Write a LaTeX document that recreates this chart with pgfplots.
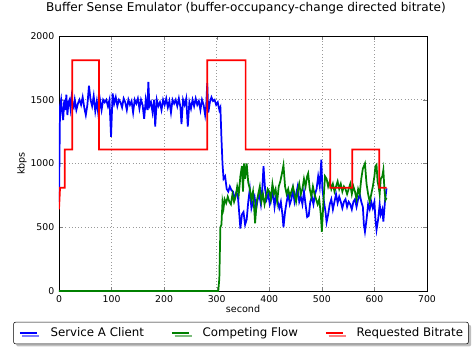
\documentclass[border=0pt]{standalone}
\usepackage{fontspec}
\setmainfont{DejaVu Sans}
\usepackage{pgfplots}
\pgfplotsset{compat=1.18}
\usetikzlibrary{shadows}
\definecolor{mblue}{rgb}{0,0,1}
\definecolor{mgreen}{rgb}{0,0.5,0}
\definecolor{mred}{rgb}{1,0,0}
\begin{document}
\begin{tikzpicture}
\path[use as bounding box] (-44.25pt,-48pt) rectangle (311.25pt,218.25pt);
\begin{axis}[
  at={(0,0)}, anchor=south west,
  scale only axis, width=276pt, height=191.25pt,
  xmin=0, xmax=700, ymin=0, ymax=2000,
  xtick={0,100,...,700}, ytick={0,500,...,2000},
  tick align=inside, xtick pos=both, ytick pos=both,
  major tick length=3pt,
  grid=major, grid style={dotted, gray!80, line width=0.5pt},
  tick label style={font=\fontsize{7}{8}\selectfont},
  /pgf/number format/assume math mode=true,
  scaled ticks=false, /pgf/number format/set thousands separator={},
  xlabel={second}, ylabel={kbps},
  label style={font=\fontsize{7.2}{8}\selectfont},
  xlabel style={at={(axis description cs:0.5,-0.0706)}, anchor=center},
  ylabel style={at={(axis description cs:-0.1005,0.5)}, anchor=center},
  title={Buffer Sense Emulator (buffer-occupancy-change directed bitrate)},
  title style={at={(axis description cs:0.508,1.078)}, anchor=center, font=\fontsize{9.05}{10}\selectfont},
  legend columns=3,
  legend cell align=left,
  legend image code/.code={\draw[#1] (0pt,0pt) -- (12.75pt,0pt);},
  legend style={at={(axis description cs:0.4946,-0.1647)}, anchor=center,
    draw=black, fill=white, rounded corners=1.5pt,
    drop shadow={shadow xshift=2pt, shadow yshift=-2pt, opacity=0.5},
    font=\fontsize{8.85}{10}\selectfont,
    inner xsep=4pt, inner ysep=2pt,
    nodes={inner xsep=0pt, inner ysep=2pt},
    /tikz/every even column/.append style={column sep=20.25pt},
    /tikz/every odd column/.append style={column sep=9.75pt}},
]
\addplot[mblue, line width=1.3pt] table {
x y
0 700
2 1450
4 1500
6 1400
8 1340
10 1500
12 1420
14 1540
16 1380
18 1480
20 1500
22 1430
24 1520
26 1460
28 1440
30 1500
33 1420
36 1470
39 1500
42 1460
45 1520
48 1440
51 1380
54 1460
57 1610
60 1500
63 1450
66 1530
69 1410
72 1490
75 1380
78 1500
81 1420
84 1500
87 1480
90 1500
93 1450
96 1500
99 1210
102 1550
105 1470
108 1520
111 1450
114 1500
117 1480
120 1440
123 1510
126 1480
129 1420
132 1500
135 1460
138 1490
141 1400
144 1500
147 1470
150 1510
153 1430
156 1500
159 1460
162 1350
165 1500
168 1420
170 1640
172 1450
175 1480
178 1400
181 1500
183 1290
186 1500
189 1450
192 1480
195 1420
198 1500
201 1460
204 1510
207 1440
210 1490
213 1400
216 1500
219 1470
222 1500
225 1450
228 1510
231 1440
233 1310
236 1500
239 1460
242 1510
245 1290
248 1480
251 1430
254 1500
257 1450
260 1510
263 1460
266 1490
269 1420
272 1500
275 1460
278 1380
280 1450
282 1630
284 1400
287 1480
290 1520
293 1490
296 1500
299 1460
302 1480
305 1420
307 1440
309 1200
311 1000
313 880
316 900
319 800
322 780
325 820
328 790
331 780
334 720
337 770
340 760
343 600
345 490
348 600
351 620
354 520
357 560
360 700
363 800
366 650
369 700
372 740
375 640
378 720
381 760
384 680
387 820
389 980
392 800
395 720
398 760
401 680
404 720
407 780
410 660
413 750
416 700
419 650
422 700
425 600
427 500
430 620
433 700
436 760
439 680
442 720
445 800
448 700
451 760
454 820
457 700
460 740
463 680
466 780
469 680
472 580
475 590
478 700
481 740
484 680
487 760
490 800
493 900
496 820
499 1030
501 800
504 700
507 620
509 540
512 600
515 680
518 720
521 640
524 700
527 760
530 690
533 740
536 700
539 650
542 700
545 720
548 660
551 700
554 680
557 640
560 700
563 720
566 660
569 720
572 760
575 700
578 660
580 520
582 465
585 560
588 680
591 640
594 700
597 650
600 700
602 560
604 480
607 560
610 680
612 600
615 640
617 544
620 700
623 805
};
\addlegendentry{Service A Client}
\addplot[mgreen, line width=1.3pt] table {
x y
0 0
303 0
305 100
307 500
309 520
311 700
313 650
315 720
318 690
321 740
324 700
327 680
330 760
333 700
336 740
339 820
342 760
345 900
348 980
350 780
352 1000
354 880
357 1000
360 850
363 800
366 720
369 780
372 600
373 531
376 700
379 760
382 820
385 700
388 760
391 680
394 740
397 800
400 780
403 720
406 840
409 760
412 800
415 700
418 820
421 860
424 920
427 988
430 820
433 760
436 800
439 740
442 780
445 820
448 760
451 700
454 780
457 840
460 760
463 800
466 880
469 820
472 900
474 923
477 800
480 740
483 820
486 760
489 720
492 680
495 720
498 600
500 465
503 700
506 900
509 880
512 820
515 860
518 800
521 840
524 780
527 820
530 860
533 800
536 840
539 780
542 820
545 800
548 760
551 800
554 840
557 760
560 820
563 780
566 720
569 800
572 760
575 880
578 960
582 1000
585 840
588 760
591 700
594 760
597 820
600 900
602 980
604 990
606 860
608 820
610 760
612 880
615 900
617 950
619 800
621 714
623 730
};
\addlegendentry{Competing Flow}
\addplot[mred, line width=1.3pt] table {
x y
0 640
2 810
11 810
11 1110
25 1110
25 1810
76 1810
76 1110
282 1110
282 1810
355 1810
355 1110
516 1110
516 810
558 810
558 1110
609 1110
609 810
623 810
};
\addlegendentry{Requested Bitrate}
\end{axis}
\end{tikzpicture}
\end{document}
